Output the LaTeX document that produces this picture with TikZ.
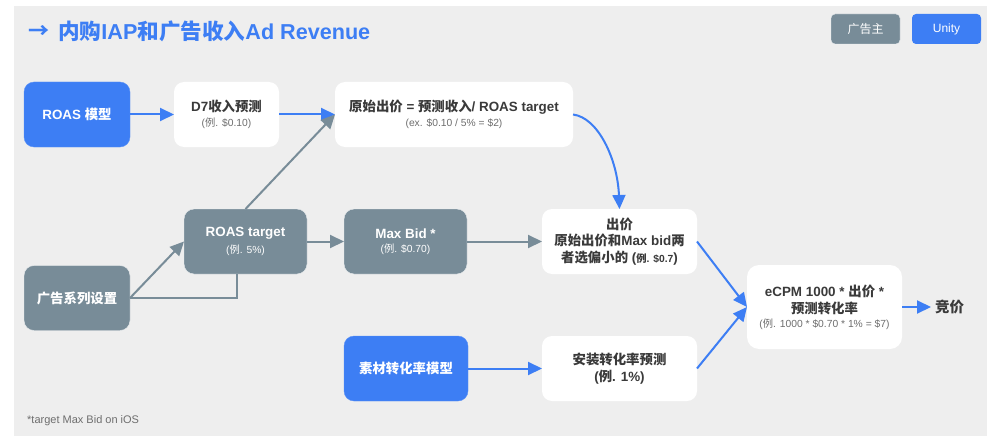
\documentclass[tikz,border=0pt]{standalone}
\usepackage{fontspec}
\setmainfont{Liberation Sans}
\newfontfamily\cjk{Noto Sans CJK SC}
\usetikzlibrary{positioning,arrows.meta}
\definecolor{bluebox}{HTML}{3D7EF4}
\definecolor{greybox}{HTML}{788C98}
\definecolor{panel}{HTML}{EEEEEE}
\definecolor{ink}{HTML}{3A3A3A}
\definecolor{subink}{HTML}{6E6E6E}
\newcommand{\zh}[1]{{\cjk #1}}
\newcommand{\subline}[1]{{\fontsize{10.3}{12}\selectfont\mdseries #1}}
\begin{document}
\begin{tikzpicture}[x=1pt,y=-1pt]
    \tikzstyle{box} = [rounded corners=10pt, align=center, outer sep=0pt, inner sep=0pt, minimum height=65pt, font=\bfseries\fontsize{13.4}{16.5}\selectfont]
    \tikzstyle{blue} = [box, fill=bluebox, draw=bluebox!85!white, text=white]
    \tikzstyle{grey} = [box, fill=greybox, draw=white!85!greybox, text=white]
    \tikzstyle{plain} = [box, fill=white, text=ink]
    \tikzstyle{lower} = [execute at begin node={\vspace*{3pt}}]
    \tikzstyle{tag} = [rounded corners=4pt, minimum width=69pt, minimum height=30pt, inner sep=0pt, outer sep=0pt, text=white, font=\fontsize{12}{14}\selectfont]
    \tikzstyle{bluearrow} = [draw=bluebox, line width=2pt, -{Triangle[length=14pt,width=13pt]}]
    \tikzstyle{greyarrow} = [draw=greybox, line width=2pt, -{Triangle[length=14pt,width=13pt]}]
    \useasboundingbox (0,0) rectangle (1000,441);
    \fill[white] (0,0) rectangle (1000,441);
    \fill[panel] (14,6) rectangle (987,436);
    \node[anchor=center, text=bluebox, font=\bfseries\fontsize{21}{24}\selectfont, inner sep=0pt] (title) at (38.5,32) {\zh{→}};
    \node[anchor=west, text=bluebox, font=\bfseries\fontsize{21.6}{24}\selectfont, inner sep=0pt] (name) at (58,31) {\zh{内购}IAP\zh{和广告收入}Ad Revenue};
    \node[tag, fill=greybox, draw=white!85!greybox] (tagadv) at (865.5,29) {\zh{广告主}};
    \node[tag, fill=bluebox] (tagunity) at (946.5,29) {Unity};
    \node[blue, minimum width=106pt] (model) at (77,114.5) {ROAS \zh{模型}};
    \node[plain, lower, minimum width=105pt, right=44pt of model] (dseven) {D7\zh{收入预测}\\[-2pt]\textcolor{subink}{\subline{(\zh{例}. \$0.10)}}};
    \node[plain, lower, minimum width=238pt, right=56pt of dseven] (raw) {\zh{原始出价} = \zh{预测收入}/ ROAS target\\[-2pt]\textcolor{subink}{\subline{(ex. \$0.10 / 5\% = \$2)}}};
    \node[grey, minimum width=106pt] (setup) at (77,298) {\zh{广告系列设置}};
    \node[grey, lower, minimum width=123pt] (target) at (245.5,241.5) {ROAS target\\[1pt]\subline{(\zh{例}. 5\%)}};
    \node[grey, lower, minimum width=123pt, right=37pt of target] (maxbid) {Max Bid *\\[-2pt]\subline{(\zh{例}. \$0.70)}};
    \node[plain, minimum width=155pt, right=75pt of maxbid] (bid) {\zh{出价}\\\zh{原始出价和}Max bid\zh{两}\\\zh{者选偏小的} (\subline{\bfseries\zh{例}. \$0.7})};
    \node[blue, minimum width=124pt] (material) at (406,368.5) {\zh{素材转化率模型}};
    \node[plain, lower, minimum width=155pt, right=74pt of material] (install) {\zh{安装转化率预测}\\(\zh{例}. 1\%)};
    \node[plain, lower, minimum width=155pt, minimum height=84pt, rounded corners=12pt] (ecpm) at (824.5,307) {eCPM 1000 * \zh{出价} *\\[1pt]\zh{预测转化率}\\[-3pt]\textcolor{subink}{\subline{(\zh{例}. 1000 * \$0.70 * 1\% = \$7)}}};
    \node[text=ink, font=\bfseries\fontsize{14.5}{16}\selectfont, inner sep=0pt, anchor=west] (price) at (935,307) {\zh{竞价}};
    \node[text=subink, font=\fontsize{11}{12}\selectfont, anchor=west, inner sep=0pt] (note) at (27,421) {*target Max Bid on iOS};
    \draw[bluearrow] (model) -- (dseven);
    \draw[bluearrow] (dseven) -- (raw);
    \draw[bluearrow] (raw.east) .. controls +(25,3) and +(-2,-50) .. (bid.north);
    \draw[greyarrow] (target.north) -- (raw.west);
    \draw[greyarrow] (setup.east) -- (target.west);
    \draw[draw=greybox, line width=2pt] (setup.east) -| ([xshift=-8.5pt]target.south);
    \draw[greyarrow] (target) -- (maxbid);
    \draw[greyarrow] (maxbid) -- (bid);
    \draw[bluearrow] (material) -- (install);
    \draw[bluearrow] (bid.east) -- (ecpm.west);
    \draw[bluearrow] (install.east) -- (ecpm.west);
    \draw[bluearrow, shorten >=4pt] (ecpm.east) -- (price.west);
\end{tikzpicture}
\end{document}
